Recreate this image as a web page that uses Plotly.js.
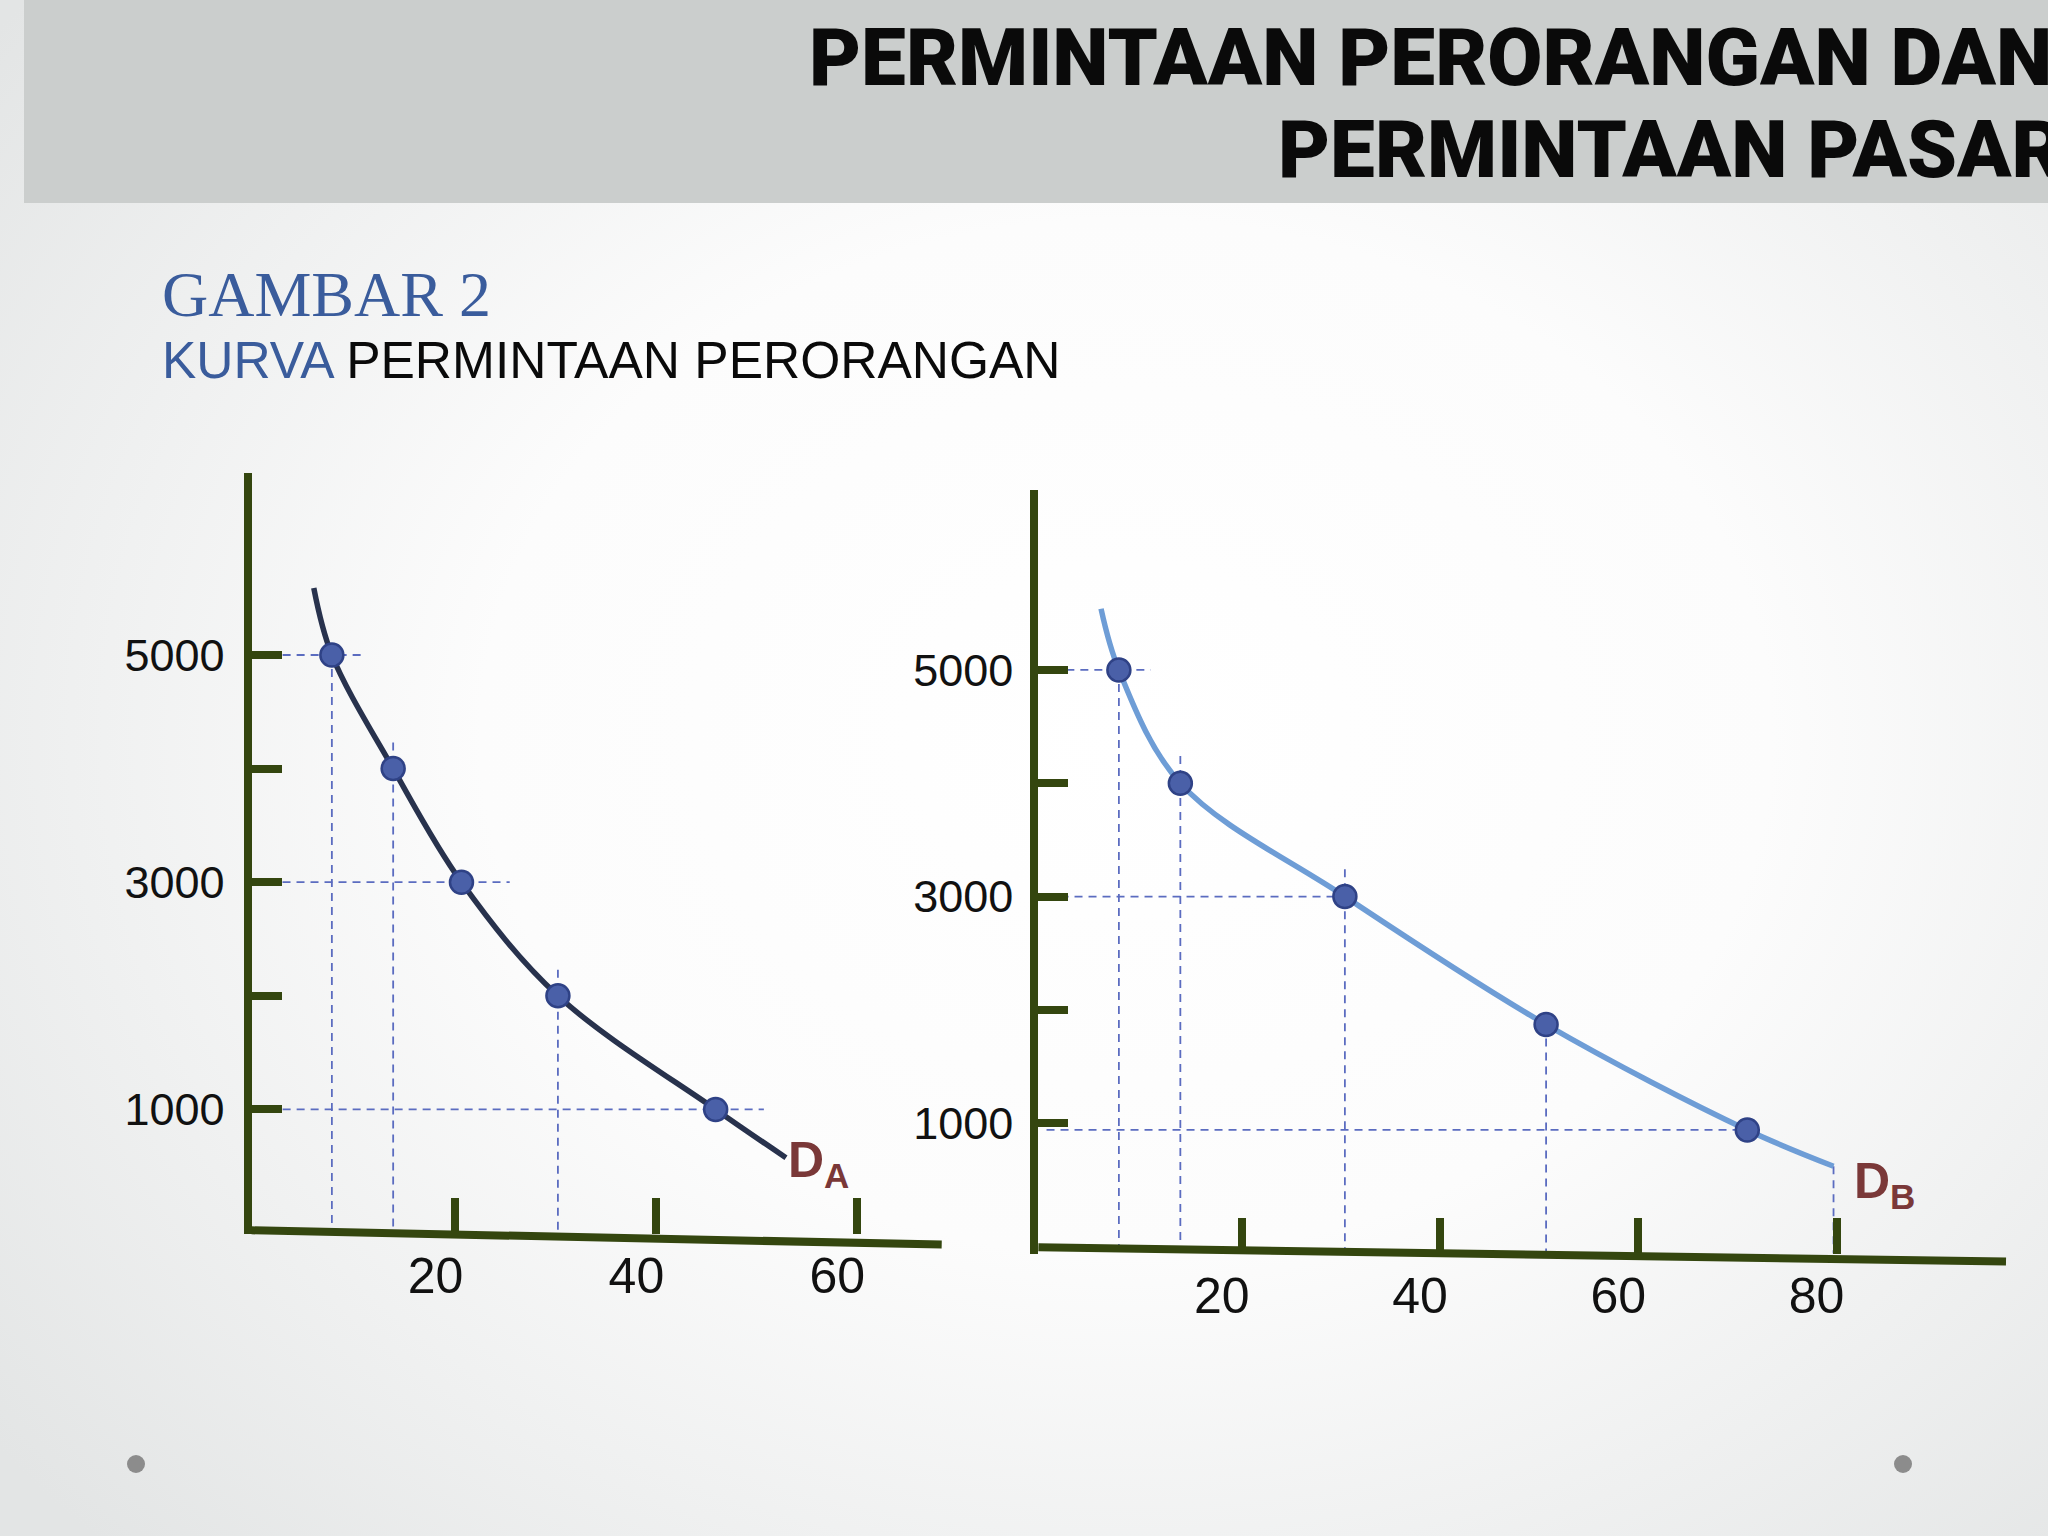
<!DOCTYPE html>
<html>
<head>
<meta charset="utf-8">
<script src="https://cdn.plot.ly/plotly-3.0.1.min.js"></script>
<style>
  html, body { margin: 0; padding: 0; }
  body {
    width: 2048px; height: 1536px; overflow: hidden;
    background: radial-gradient(ellipse 70% 75% at 55% 48%, #ffffff 0%, #fcfcfc 45%, #e3e5e5 100%);
  }
  #chart { width: 2048px; height: 1536px; }
</style>
</head>
<body>
<div id="chart"></div>
<script>
// Kurva A (perorangan, kiri)
const aQty = [7.7, 13.8, 20.6, 30.2, 45.9];
const aPrice = [5000, 4000, 3000, 2000, 1000];
const aCurveQty = [5.9, 7.7, 13.8, 20.6, 30.2, 45.9, 52.9];
const aCurvePrice = [5590, 5000, 4000, 3000, 2000, 1000, 575];
const aHGuides = [0, 2, 4];
const aVGuides = [0, 1, 3];

// Kurva B (perorangan, kanan)
const bQty = [7.6, 13.8, 30.4, 50.7, 71.0];
const bPrice = [5000, 4000, 3000, 1870, 940];
const bCurveQty = [5.8, 7.6, 13.8, 30.4, 50.7, 71.0, 79.7];
const bCurvePrice = [5540, 5000, 4000, 3000, 1870, 940, 620];
const bHGuides = [0, 2, 4];
const bVGuides = [0, 1, 2, 3];

const yTickVals = [1000, 2000, 3000, 4000, 5000];
const yTickText = ['1000', '', '3000', '', '5000'];
const aXTicks = [20, 40, 60];
const bXTicks = [20, 40, 60, 80];

const W = 2048, H = 1536;
const px = (x) => x / W;
const py = (y) => 1 - y / H;

const AXIS_COLOR = '#34460f';
const GUIDE = { color: '#5b6cc0', width: 1.8, dash: '8px,6px' };
const MARKER = { size: 23, color: '#4a60a8', line: { color: '#2f4286', width: 2.5 } };

// dashed helper lines from the points to the axes
function guideTraces(qty, price, hIdx, vIdx, xa, ya, opts) {
  const hx = [], hy = [], vx = [], vy = [];
  hIdx.forEach(i => {
    hx.push(opts.hStart(i), qty[i] + opts.hOver(i), null);
    hy.push(price[i], price[i], null);
  });
  vIdx.forEach(i => {
    vx.push(qty[i], qty[i], null);
    vy.push(price[i] + opts.vOver(i), opts.vEnd(i), null);
  });
  return [
    { x: hx, y: hy, xaxis: xa, yaxis: ya, mode: 'lines', line: GUIDE, hoverinfo: 'skip', showlegend: false },
    { x: vx, y: vy, xaxis: xa, yaxis: ya, mode: 'lines', line: GUIDE, hoverinfo: 'skip', showlegend: false },
  ];
}

const traces = [
  ...guideTraces(aQty, aPrice, aHGuides, aVGuides, 'x', 'y', {
    hStart: i => (i === 2 ? 0 : 2.8),
    hOver: i => (i === 0 ? 3 : 4.8),
    vOver: i => (i === 0 ? 0 : 230),
    vEnd: i => (i === 0 ? -190 : -90),
  }),
  {
    x: aCurveQty, y: aCurvePrice, xaxis: 'x', yaxis: 'y',
    mode: 'lines', line: { color: '#28324d', width: 5.5, shape: 'spline', smoothing: 1 },
    hoverinfo: 'skip', showlegend: false,
  },
  {
    x: aQty, y: aPrice, xaxis: 'x', yaxis: 'y',
    mode: 'markers', marker: MARKER, showlegend: false,
  },
  ...guideTraces(bQty, bPrice, bHGuides, bVGuides, 'x2', 'y2', {
    hStart: i => (i === 0 ? 2.3 : 0.3),
    hOver: i => (i === 0 ? 3.2 : 0),
    vOver: i => (i === 1 || i === 2 ? 240 : 0),
    vEnd: i => [-190, -40, -120, -245][i],
  }),
  {
    x: [bCurveQty[bCurveQty.length - 1], bCurveQty[bCurveQty.length - 1]],
    y: [bCurvePrice[bCurvePrice.length - 1], -150], xaxis: 'x2', yaxis: 'y2',
    mode: 'lines', line: GUIDE, hoverinfo: 'skip', showlegend: false,
  },
  {
    x: bCurveQty, y: bCurvePrice, xaxis: 'x2', yaxis: 'y2',
    mode: 'lines', line: { color: '#6e9dd6', width: 5.5, shape: 'spline', smoothing: 1 },
    hoverinfo: 'skip', showlegend: false,
  },
  {
    x: bQty, y: bPrice, xaxis: 'x2', yaxis: 'y2',
    mode: 'markers', marker: MARKER, showlegend: false,
  },
];

const AXIS_BASE = {
  showgrid: false, zeroline: false, fixedrange: true,
  ticks: 'inside', tickcolor: AXIS_COLOR, tickwidth: 8,
};
const Y_AXIS = {
  ...AXIS_BASE, showline: true, linecolor: AXIS_COLOR, linewidth: 8,
  tickvals: yTickVals, ticktext: yTickText, ticklen: 30,
  tickfont: { family: 'Liberation Sans, Arial, sans-serif', size: 45, color: '#111111' },
};
const X_AXIS = {
  ...AXIS_BASE, showline: false, ticklen: 36, ticklabelshift: -20, ticklabelstandoff: 8,
  tickfont: { family: 'Liberation Sans, Arial, sans-serif', size: 50, color: '#111111' },
};

// the x axis lines are drawn slightly tilted, as in the slide
const tiltedAxis = (xd, yd, y0, y1) => ({
  type: 'line', xref: xd, yref: yd, x0: 0, x1: 1, y0: y0, y1: y1,
  line: { color: AXIS_COLOR, width: 8 },
});

const layout = {
  width: W, height: H,
  margin: { l: 0, r: 0, t: 0, b: 0 },
  paper_bgcolor: 'rgba(0,0,0,0)',
  plot_bgcolor: 'rgba(0,0,0,0)',
  showlegend: false,
  xaxis: { ...X_AXIS, domain: [px(251.5), px(941.7)], range: [-0.3, 68.4], anchor: 'y', tickvals: aXTicks },
  yaxis: { ...Y_AXIS, domain: [py(1234.4), py(473.2)], range: [-100, 6600], anchor: 'x', ticklabelstandoff: 10 },
  xaxis2: { ...X_AXIS, domain: [px(1038.4), px(2006)], range: [-0.52, 97.1], anchor: 'y2', tickvals: bXTicks },
  yaxis2: { ...Y_AXIS, domain: [py(1253.8), py(489.8)], range: [-153, 6590], anchor: 'x2', ticklabelstandoff: 8 },
  shapes: [
    // header band
    { type: 'rect', xref: 'paper', yref: 'paper', x0: px(24), x1: 1, y0: py(203), y1: 1,
      fillcolor: '#cbcecd', line: { width: 0 }, layer: 'below' },
    tiltedAxis('x domain', 'y domain', 0.0054, -0.0134),
    tiltedAxis('x2 domain', 'y2 domain', 0.0086, -0.0102),
    // slide bullets
    { type: 'circle', xref: 'paper', yref: 'paper', x0: px(127), x1: px(145), y0: py(1473), y1: py(1455),
      fillcolor: '#8c8c8c', line: { width: 0 } },
    { type: 'circle', xref: 'paper', yref: 'paper', x0: px(1894), x1: px(1912), y0: py(1473), y1: py(1455),
      fillcolor: '#8c8c8c', line: { width: 0 } },
  ],
  annotations: [
    { text: 'PERMINTAAN PERORANGAN DAN', xref: 'paper', yref: 'paper', x: px(807), y: py(58),
      xanchor: 'left', yanchor: 'middle', showarrow: false,
      font: { family: 'Roboto, sans-serif', size: 80, weight: 900, color: '#0a0a0a' } },
    { text: 'PERMINTAAN PASAR', xref: 'paper', yref: 'paper', x: px(1276), y: py(150),
      xanchor: 'left', yanchor: 'middle', showarrow: false,
      font: { family: 'Roboto, sans-serif', size: 80, weight: 900, color: '#0a0a0a' } },
    { text: 'GAMBAR 2', xref: 'paper', yref: 'paper', x: px(160), y: py(294),
      xanchor: 'left', yanchor: 'middle', showarrow: false,
      font: { family: 'Liberation Serif, Times New Roman, serif', size: 64, color: '#3a5c9c' } },
    { text: '<span style="color:#3a5c9c">KURVA</span> PERMINTAAN PERORANGAN', xref: 'paper', yref: 'paper',
      x: px(160), y: py(360), xanchor: 'left', yanchor: 'middle', showarrow: false,
      font: { family: 'Liberation Sans, Arial, sans-serif', size: 51.5, color: '#0a0a0a' } },
    { text: 'D<sub>A</sub>', xref: 'x', yref: 'y',
      x: aCurveQty[aCurveQty.length - 1], y: aCurvePrice[aCurvePrice.length - 1],
      xanchor: 'left', yanchor: 'middle', xshift: 0, yshift: -6, showarrow: false,
      font: { family: 'Liberation Sans, Arial, sans-serif', size: 50, weight: 700, color: '#7a3838' } },
    { text: 'D<sub>B</sub>', xref: 'x2', yref: 'y2',
      x: bCurveQty[bCurveQty.length - 1], y: bCurvePrice[bCurvePrice.length - 1],
      xanchor: 'left', yanchor: 'middle', xshift: 18, yshift: -18, showarrow: false,
      font: { family: 'Liberation Sans, Arial, sans-serif', size: 50, weight: 700, color: '#7a3838' } },
  ],
};

Plotly.newPlot('chart', traces, layout, { staticPlot: true, displayModeBar: false });
</script>
</body>
</html>
